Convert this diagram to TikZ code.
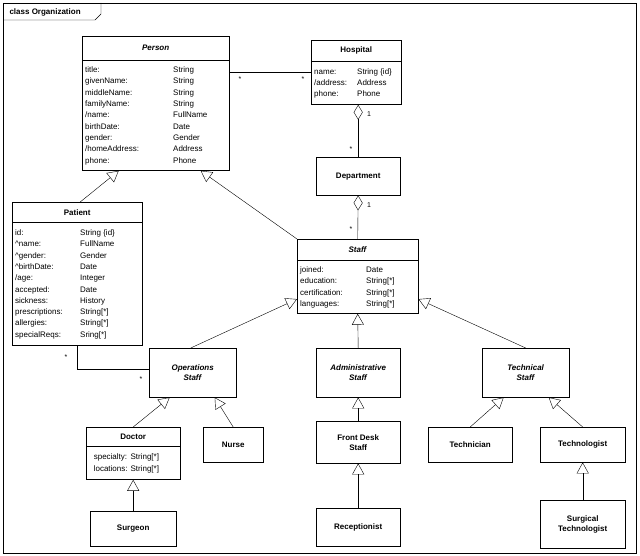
\documentclass[tikz,border=0pt]{standalone}
\usepackage{fontspec}
\setmainfont{Liberation Sans}
\usetikzlibrary{arrows.meta}
\begin{document}
\begin{tikzpicture}[x=1pt,y=-1pt,thin,
    every node/.style={font=\fontsize{8}{11.3}\selectfont},
    head/.style={draw,fill=white,anchor=north west,minimum height=#1,inner sep=2pt,font=\fontsize{8}{10}\selectfont\bfseries,align=center},
    body/.style={draw,fill=white,anchor=north west,minimum height=#1,inner sep=0pt,align=left},
    gen/.style={-{Triangle[open,length=11pt,width=12pt]}},
    agg/.style={{Diamond[open,length=15pt,width=9pt]}-},
    mult/.style={font=\fontsize{7}{8}\selectfont,inner sep=1pt}]

    % Frame
    \draw (3,3) rectangle (636,553);
    \draw (3,20) -- (95,20) -- (101,14) -- (101,3);
    \node[anchor=west,font=\fontsize{8}{10}\selectfont\bfseries] (frame) at (6,12) {class Organization};

    % Classes with attributes
    \node[head=24pt,minimum width=147pt] (person) at (82,36) {\textit{Person}};
    \node[body=110pt,minimum width=147pt] (personB) at (person.south west) {%
      \begin{tabular}{@{\hspace{3pt}}p{88pt}@{}p{56pt}@{}}
      title: & String\\ givenName: & String\\ middleName: & String\\
      familyName: & String\\ /name: & FullName\\ birthDate: & Date\\
      gender: & Gender\\ /homeAddress: & Address\\ phone: & Phone
      \end{tabular}};

    \node[head=21pt,minimum width=90pt] (hospital) at (311,40) {Hospital};
    \node[body=43pt,minimum width=90pt] (hospitalB) at (hospital.south west) {%
      \begin{tabular}{@{\hspace{3pt}}p{43pt}@{}p{44pt}@{}}
      name: & String \{id\}\\ /address: & Address\\ phone: & Phone
      \end{tabular}};

    \node[head=20pt,minimum width=130pt] (patient) at (12,202) {Patient};
    \node[body=123pt,minimum width=130pt] (patientB) at (patient.south west) {%
      \begin{tabular}{@{\hspace{3pt}}p{65pt}@{}p{62pt}@{}}
      id: & String \{id\}\\ \^{}name: & FullName\\ \^{}gender: & Gender\\
      \^{}birthDate: & Date\\ /age: & Integer\\ accepted: & Date\\
      sickness: & History\\ prescriptions: & String[*]\\
      allergies: & String[*]\\ specialReqs: & Sring[*]
      \end{tabular}};

    \node[head=21pt,minimum width=121pt] (staff) at (297,239) {\textit{Staff}};
    \node[body=53pt,minimum width=121pt] (staffB) at (staff.south west) {%
      \begin{tabular}{@{\hspace{3pt}}p{66pt}@{}p{52pt}@{}}
      joined: & Date\\ education: & String[*]\\
      certification: & String[*]\\ languages: & String[*]
      \end{tabular}};

    \node[head=19pt,minimum width=94pt] (doctor) at (86,427) {Doctor};
    \node[body=33pt,minimum width=94pt] (doctorB) at (doctor.south west) {%
      \begin{tabular}{@{\hspace{4pt}}l@{ }p{46pt}@{}}
      specialty: & String[*]\\ locations: & String[*]
      \end{tabular}};

    % Plain classes
    \node[head=38pt,minimum width=84pt] (department) at (316,157) {Department};
    \node[head=49pt,minimum width=87pt] (opstaff) at (149,348) {\textit{Operations}\\\textit{Staff}};
    \node[head=49pt,minimum width=84pt] (adminstaff) at (316,348) {\textit{Administrative}\\\textit{Staff}};
    \node[head=49pt,minimum width=87pt] (techstaff) at (482,348) {\textit{Technical}\\\textit{Staff}};
    \node[head=35pt,minimum width=60pt] (nurse) at (203,427) {Nurse};
    \node[head=42pt,minimum width=84pt] (frontdesk) at (316,421) {Front Desk\\Staff};
    \node[head=35pt,minimum width=84pt] (technician) at (428,427) {Technician};
    \node[head=35pt,minimum width=85pt] (technologist) at (540,427) {Technologist};
    \node[head=35pt,minimum width=86pt] (surgeon) at (90,511) {Surgeon};
    \node[head=38pt,minimum width=84pt] (receptionist) at (316,508) {Receptionist};
    \node[head=48pt,minimum width=85pt] (surgtech) at (540,500) {Surgical\\Technologist};

    % Associations
    \draw ([yshift=-12pt]personB.north east) -- ([yshift=-11pt]hospitalB.north west);
    \node[mult] at (240,79) {*};
    \node[mult] at (303,79) {*};
    \draw[agg] (hospitalB.south -| department.north) -- (department.north);
    \node[mult,anchor=west] at (366,114) {1};
    \node[mult] at (351,149) {*};
    \draw[agg] (department.south) -- (staff.north);
    \node[mult,anchor=west] at (366,205) {1};
    \node[mult] at (351,229) {*};
    \draw (patientB.south) |- ([yshift=4pt]opstaff.west);
    \node[mult] at (66,357) {*};
    \node[mult] at (141,379) {*};

    % Generalizations
    \draw[gen] ([xshift=3pt]patient.north) -- ([xshift=-37pt]personB.south);
    \draw[gen] (staff.north west) -- ([xshift=45pt]personB.south);
    \draw[gen] ([xshift=-2pt]opstaff.north) -- ([yshift=-12pt]staffB.west);
    \draw[gen] (adminstaff.north) -- (staffB.south);
    \draw[gen] (techstaff.north) -- ([yshift=-12pt]staffB.east);
    \draw[gen] (doctor.north) -- ([xshift=-23pt]opstaff.south);
    \draw[gen] (nurse.north) -- ([xshift=22pt]opstaff.south);
    \draw[gen] (frontdesk.north) -- (adminstaff.south);
    \draw[gen] (receptionist.north) -- (frontdesk.south);
    \draw[gen] (technician.north) -- ([xshift=-22pt]techstaff.south);
    \draw[gen] (technologist.north) -- ([xshift=23pt]techstaff.south);
    \draw[gen] (surgeon.north) -- (doctorB.south);
    \draw[gen] (surgtech.north) -- (technologist.south);
    \useasboundingbox (0,0) rectangle (640,556);
\end{tikzpicture}
\end{document}
